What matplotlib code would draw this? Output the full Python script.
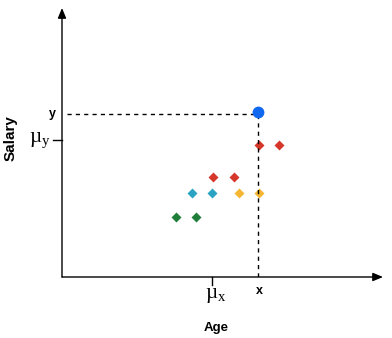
import matplotlib
matplotlib.use("Agg")
from matplotlib import pyplot as plt

plt.rcParams['mathtext.fontset'] = 'custom'
plt.rcParams['mathtext.rm'] = 'Liberation Serif'

# sample points (age, salary), grouped by colour
green_age = [114, 134]
green_sal = [60, 60]
teal_age = [130, 150]
teal_sal = [84, 84]
red_age = [151, 172, 197, 217]
red_sal = [100, 100, 132, 132]
yellow_age = [177, 197]
yellow_sal = [84, 84]

# the new point and the means
new_age = 196
new_sal = 163
mu_x = 150
mu_y = 137

fig = plt.figure(figsize=(3.92, 3.38), dpi=100)
ax = fig.add_axes([62/392, 61/338, 321/392, 269/338])
ax.set_xlim(0, 321)
ax.set_ylim(0, 269)
ax.axis('off')

# axes with arrowheads
arrow = dict(arrowstyle='-|>,head_length=0.6,head_width=0.25', color='black', lw=1, shrinkA=0, shrinkB=0)
ax.annotate('', xy=(0, 269), xytext=(0, 0), arrowprops=arrow, annotation_clip=False)
ax.annotate('', xy=(321, 0), xytext=(0, 0), arrowprops=arrow, annotation_clip=False)

ms = 5.5
ax.plot(green_age, green_sal, 'D', color='#1f7f3a', ms=ms, mec='none', clip_on=False)
ax.plot(teal_age, teal_sal, 'D', color='#2aa4c2', ms=ms, mec='none', clip_on=False)
ax.plot(red_age, red_sal, 'D', color='#d5372a', ms=ms, mec='none', clip_on=False)
ax.plot(yellow_age, yellow_sal, 'D', color='#f5b731', ms=ms, mec='none', clip_on=False)

# dashed guides to the new point
ax.plot([new_age, new_age], [0, new_sal], color='black', lw=1, ls=(0, (3, 3)))
ax.plot([5, new_age], [new_sal, new_sal], color='black', lw=1, ls=(0, (3, 3)))
ax.plot(new_age, new_sal + 2, 'o', color='#1168f0', ms=8.5, mec='none', clip_on=False)

# mean ticks
ax.plot([mu_x, mu_x], [0, -8], color='black', lw=1, clip_on=False)
ax.plot([0, -9], [mu_y, mu_y], color='black', lw=1, clip_on=False)

ax.text(mu_x + 4, -8, r'$\mathrm{µ_x}$', fontsize=15, ha='center', va='top')
ax.text(-11, mu_y, r'$\mathrm{µ_y}$', fontsize=15, ha='right', va='center')
ax.text(new_age + 1, -8, 'x', fontsize=9, fontweight='bold', family='Liberation Sans', ha='center', va='top')
ax.text(-6, new_sal, 'y', fontsize=9, fontweight='bold', family='Liberation Sans', ha='right', va='center')

fig.text(216/392, 1 - 328/338, 'Age', fontsize=9.5, fontweight='bold', family='Liberation Sans', ha='center', va='center')
fig.text(11/392, 1 - 138/338, 'Salary', fontsize=11, fontweight='bold', family='Liberation Sans', ha='center', va='center', rotation=90)

fig.savefig('out.png', dpi=100)
